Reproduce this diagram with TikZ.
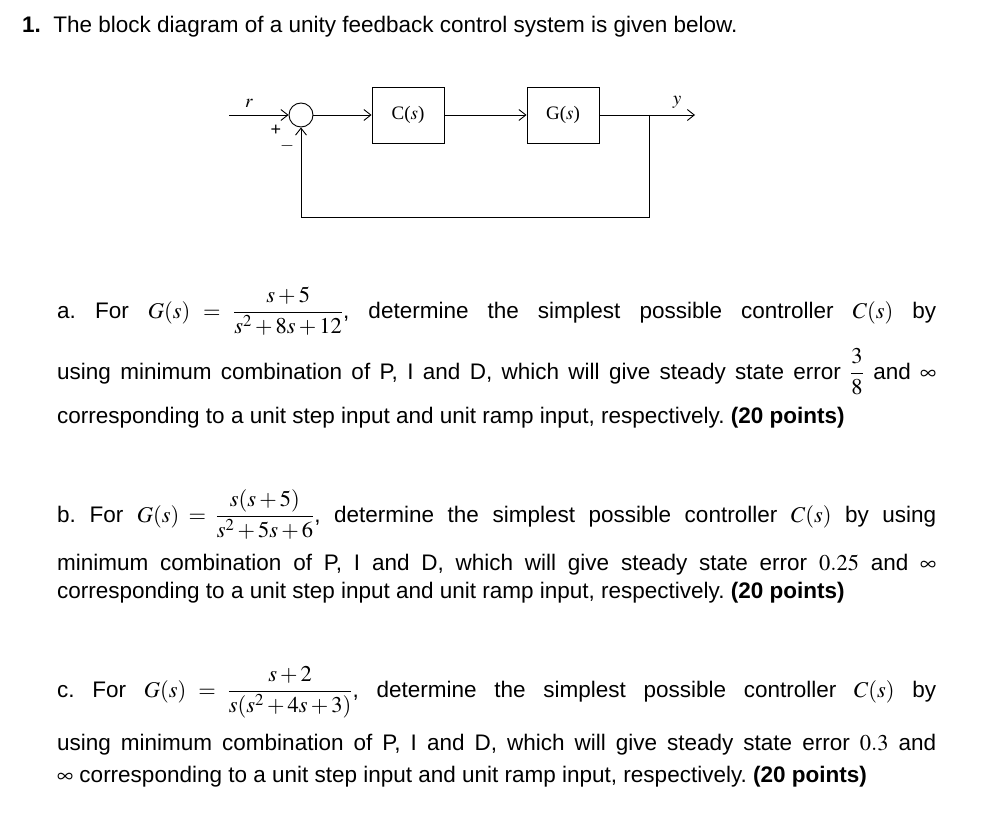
\documentclass[tikz,border=0pt]{standalone}
\usepackage{amsmath}
\usepackage{mathptmx}
\usepackage{fontspec}
\setmainfont{Liberation Sans}
\newfontfamily\tms{Liberation Serif}
\usetikzlibrary{arrows.meta}
\frenchspacing
\tikzset{
  blk/.style={draw,line width=0.9pt,minimum width=72pt,minimum height=56pt,inner sep=0pt,font=\tms\fontsize{19}{22}\selectfont},
  sumc/.style={draw,circle,line width=0.9pt,minimum size=24pt,inner sep=0pt},
  wire/.style={line width=0.9pt},
  arr/.style={wire,-{Straight Barb[length=7pt,width=11pt,line width=0.9pt]}},
  txt/.style={anchor=base west,inner sep=0pt,font=\fontsize{22.5}{27}\selectfont\frenchspacing},
  lbl/.style={inner sep=0pt,font=\tms\fontsize{19}{21}\selectfont}
}
\begin{document}
\begin{tikzpicture}[x=1pt,y=-1pt]
\useasboundingbox (0,0) rectangle (983,832);
% diagram
\coordinate (in) at (229,115);
\node[sumc] (sum) at (301,115) {};
\node[blk] (C) at (408,115) {C($s$)};
\node[blk] (G) at (563,115) {G($s$)};
\coordinate (br) at (649,115);
\coordinate (out) at (695,115);
\coordinate (fb1) at (649,217);
\coordinate (fb2) at (301,217);
\draw[arr] (in) -- (sum.west);
\draw[arr] (sum.east) -- (C.west);
\draw[arr] (C.east) -- (G.west);
\draw[wire] (G.east) -- (br);
\draw[arr] (br) -- (out);
\draw[wire] (br) -- (fb1) -- (fb2);
\draw[arr] (fb2) -- (sum.south);
\node[lbl] (r) at (249,103) {$r$};
\node[lbl] (y) at (677,102) {$y$};
\node[inner sep=0pt,font=\fontsize{18}{18}\selectfont] (pl) at (276,130) {+};
\node[inner sep=0pt,font=\fontsize{18}{18}\selectfont] (mi) at (287,146) {$-$};
% text
\node[txt] (t1) at (22,33) {\textbf{1.}\ \ The block diagram of a unity feedback control system is given below.};
\node[txt] (a1) at (57,318) {\hbox to 879pt{a. For $G(s)=\dfrac{s+5}{s^2+8s+12}$, determine the simplest possible controller $C(s)$ by}};
\node[txt] (a2) at (57,379) {\hbox to 879pt{using minimum combination of P, I and D, which will give steady state error $\dfrac{3}{8}$ and $\infty$}};
\node[txt] (a3) at (57,423) {corresponding to a unit step input and unit ramp input, respectively. \textbf{(20 points)}};
\node[txt] (b1) at (57,522) {\hbox to 879pt{b. For $G(s)=\dfrac{s(s+5)}{s^2+5s+6}$, determine the simplest possible controller $C(s)$ by using}};
\node[txt] (b2) at (57,570) {\hbox to 879pt{minimum combination of P, I and D, which will give steady state error $0.25$ and $\infty$}};
\node[txt] (b3) at (57,598) {corresponding to a unit step input and unit ramp input, respectively. \textbf{(20 points)}};
\node[txt] (c1) at (57,697) {\hbox to 879pt{c. For $G(s)=\dfrac{s+2}{s(s^2+4s+3)}$, determine the simplest possible controller $C(s)$ by}};
\node[txt] (c2) at (57,750) {\hbox to 879pt{using minimum combination of P, I and D, which will give steady state error $0.3$ and}};
\node[txt] (c3) at (57,782) {$\infty$ corresponding to a unit step input and unit ramp input, respectively. \textbf{(20 points)}};
\end{tikzpicture}
\end{document}
